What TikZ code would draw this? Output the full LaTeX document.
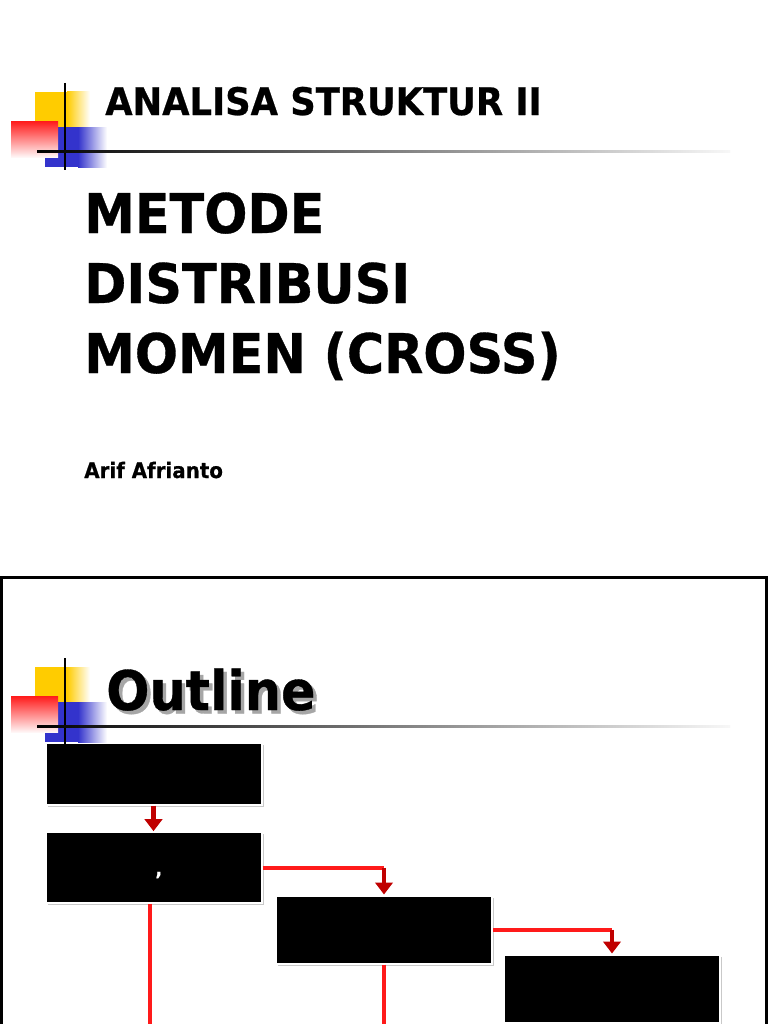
\documentclass[tikz,border=0pt]{standalone}
\usepackage{fontspec}
\setmainfont{DejaVu Sans}[FakeStretch=0.93, BoldFeatures={FakeBold=0.6}]
\usetikzlibrary{arrows.meta,shadows,positioning}

\definecolor{kuning}{HTML}{FFCC00}
\definecolor{biru}{HTML}{3333CC}
\definecolor{merah}{HTML}{FF1A1A}
\definecolor{merahtua}{HTML}{C00000}

\tikzset{judul/.style   = {anchor=base west, inner sep=0pt,
                           font=\bfseries\fontsize{28.5pt}{34pt}\selectfont},
         besar/.style   = {anchor=base west, inner sep=0pt,
                           font=\bfseries\fontsize{41pt}{50pt}\selectfont},
         penulis/.style = {anchor=base west, inner sep=0pt,
                           font=\bfseries\fontsize{16pt}{19pt}\selectfont},
         kotak/.style   = {fill=black, draw=white, line width=1.5pt, inner sep=0pt,
                           minimum width=162pt, minimum height=#1,
                           drop shadow={shadow xshift=1.5pt, shadow yshift=-1.5pt,
                                        opacity=0.35, fill=black!60}},
         kotak/.default = 52pt,
         garis/.style   = {draw=merah, line width=3pt},
         panah/.style   = {draw=merahtua, line width=3.5pt,
                           -{Triangle[length=9pt, width=13pt]}}
        }

\begin{document}
\begin{tikzpicture}[x=0.75pt, y=-0.75pt]
  \clip (0,0) rectangle (768,1024);
  \fill[white] (0,0) rectangle (768,1024);

  % slide 1
  \node[judul] (judul) at (105,115) {ANALISA STRUKTUR II};
  \node[besar] (baris1) at (84,233) {METODE};
  \node[besar] (baris2) at (84,303) {DISTRIBUSI};
  \node[besar] (baris3) at (84,373) {MOMEN (CROSS)};
  \node[penulis] (penulis) at (84,478) {Arif Afrianto};

  % slide 2
  \draw[line width=2.25pt] (1.5,577.5) rectangle (766.5,1040);
  \node[judul, font=\bfseries\fontsize{41pt}{48pt}\selectfont, text=black!35]
       at (109.5,713.5) {Outline};
  \node[judul, font=\bfseries\fontsize{41pt}{48pt}\selectfont] (outline)
       at (106,710) {Outline};

  \node[kotak=46.5pt] (box1) at (153.5,773.5) {};
  \node[kotak=53pt, text=white, font=\bfseries\Large] (box2) at (153.5,867.5)
       {\hspace{8pt}\smash{\raisebox{-6pt}{,}}};
  \node[kotak=51pt] (box3) at (384,929.5) {};
  \node[kotak=51pt] (box4) at (612,988.5) {};

  \coordinate (k1) at (box2.east -| box3.north);
  \coordinate (k2) at (box3.east -| box4.north);
  \coordinate (bawah) at (0,1030);

  \draw[panah] (box1.south) -- (box2.north);
  \draw[garis] (box2.east) -- (k1);
  \draw[panah] (k1) -- (box3.north);
  \draw[garis] (box3.east) -- (k2);
  \draw[panah] (k2) -- (box4.north);
  \draw[garis] ([xshift=-2.5pt]box2.south) -- ([xshift=-2.5pt]box2.south |- bawah);
  \draw[garis] (box3.south) -- (box3.south |- bawah);

  % hiasan pojok
  \foreach \dy in {0,575} {
    \begin{scope}[shift={(0,\dy)}]
      \fill[kuning] (35,92) rectangle (67,127);
      \shade[left color=kuning, right color=white] (67,92) rectangle (90,127);
      \fill[biru] (45,127) rectangle (78,167);
      \shade[left color=biru, right color=white] (78,127) rectangle (107,167);
      \shade[shading angle=-60, top color=merah, bottom color=merah!4]
            (11,121) rectangle (58,157);
      \draw[line width=1.5pt] (65,83) -- (65,170);
      \shade[left color=black, right color=black!3] (37,150) rectangle (730,152.5);
    \end{scope}
  }
\end{tikzpicture}
\end{document}
